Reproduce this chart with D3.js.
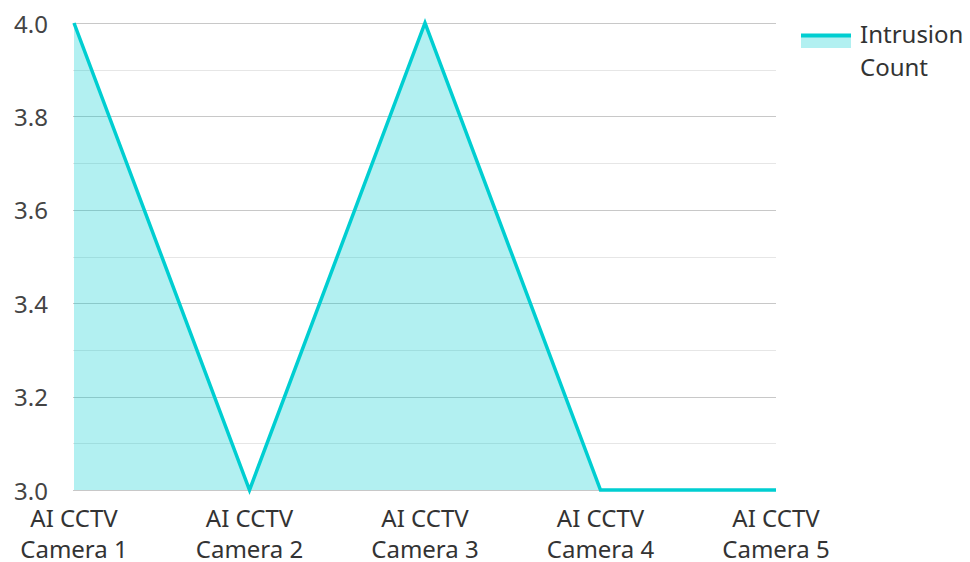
<!DOCTYPE html>
<html>
<head>
<meta charset="utf-8">
<script src="https://cdn.jsdelivr.net/npm/d3@7"></script>
<style>
  html, body { margin: 0; padding: 0; background: #fff; }
  svg { display: block; font-family: "Noto Sans", "Open Sans", sans-serif; }
</style>
</head>
<body>
<svg id="chart" width="970" height="562"></svg>
<script>
// Intrusion counts per camera
const categories = ["AI CCTV Camera 1", "AI CCTV Camera 2", "AI CCTV Camera 3", "AI CCTV Camera 4", "AI CCTV Camera 5"];
const intrusionCount = [4, 3, 4, 3, 3];
const yTicks = [3.0, 3.2, 3.4, 3.6, 3.8, 4.0];
const seriesName = "Intrusion Count";

const svg = d3.select("#chart");
const margin = { left: 74, right: 194, top: 23, bottom: 72 };
const W = 970, H = 562;
const fontSize = 24;

const x = d3.scalePoint().domain(categories).range([margin.left, W - margin.right]);
const y = d3.scaleLinear().domain([3, 4]).range([H - margin.bottom, margin.top]);

const lineColor = "#00CED1";

// Minor grid lines (halfway between labelled ticks)
const minor = d3.range(3.1, 4.0, 0.2).map(v => +v.toFixed(1));
svg.append("g").selectAll("line").data(minor).join("line")
  .attr("x1", margin.left - 1).attr("x2", W - margin.right)
  .attr("y1", d => Math.round(y(d)) + 0.5).attr("y2", d => Math.round(y(d)) + 0.5)
  .attr("stroke", "#e6e6e6").attr("stroke-width", 1);

// Major grid lines
svg.append("g").selectAll("line").data(yTicks).join("line")
  .attr("x1", margin.left - 1).attr("x2", W - margin.right)
  .attr("y1", d => Math.round(y(d)) + 0.5).attr("y2", d => Math.round(y(d)) + 0.5)
  .attr("stroke", "#c8c8c8").attr("stroke-width", 1);

// Y tick labels
svg.append("g").selectAll("text").data(yTicks).join("text")
  .attr("x", 48).attr("y", d => y(d))
  .attr("text-anchor", "end").attr("dominant-baseline", "central")
  .attr("font-size", fontSize).attr("fill", "#444")
  .text(d => d.toFixed(1));

const pts = categories.map((c, i) => ({ c, v: intrusionCount[i] }));

// Filled area
svg.append("path").datum(pts)
  .attr("d", d3.area().x(d => x(d.c)).y0(y(3)).y1(d => y(d.v)))
  .attr("fill", lineColor).attr("fill-opacity", 0.3);

// Line
svg.append("path").datum(pts)
  .attr("d", d3.line().x(d => x(d.c)).y(d => y(d.v)))
  .attr("fill", "none").attr("stroke", lineColor).attr("stroke-width", 3.5)
  .attr("stroke-linejoin", "miter");

// X labels (two lines)
const xl = svg.append("g").selectAll("text").data(categories).join("text")
  .attr("text-anchor", "middle").attr("font-size", fontSize).attr("fill", "#333");
xl.each(function(d) {
  const parts = d.split(" ");
  const t = d3.select(this);
  t.append("tspan").attr("x", x(d)).attr("y", 527).text(parts.slice(0, 2).join(" "));
  t.append("tspan").attr("x", x(d)).attr("y", 558).text(parts.slice(2).join(" "));
});

// Legend
const lg = svg.append("g");
lg.append("rect").attr("x", 801).attr("y", 35).attr("width", 50).attr("height", 13)
  .attr("fill", lineColor).attr("fill-opacity", 0.3);
lg.append("line").attr("x1", 801).attr("x2", 851).attr("y1", 35.5).attr("y2", 35.5)
  .attr("stroke", lineColor).attr("stroke-width", 4);
const lt = lg.append("text").attr("font-size", fontSize).attr("fill", "#333");
lt.append("tspan").attr("x", 860).attr("y", 43).text("Intrusion");
lt.append("tspan").attr("x", 860).attr("y", 76).text("Count");
</script>
</body>
</html>
